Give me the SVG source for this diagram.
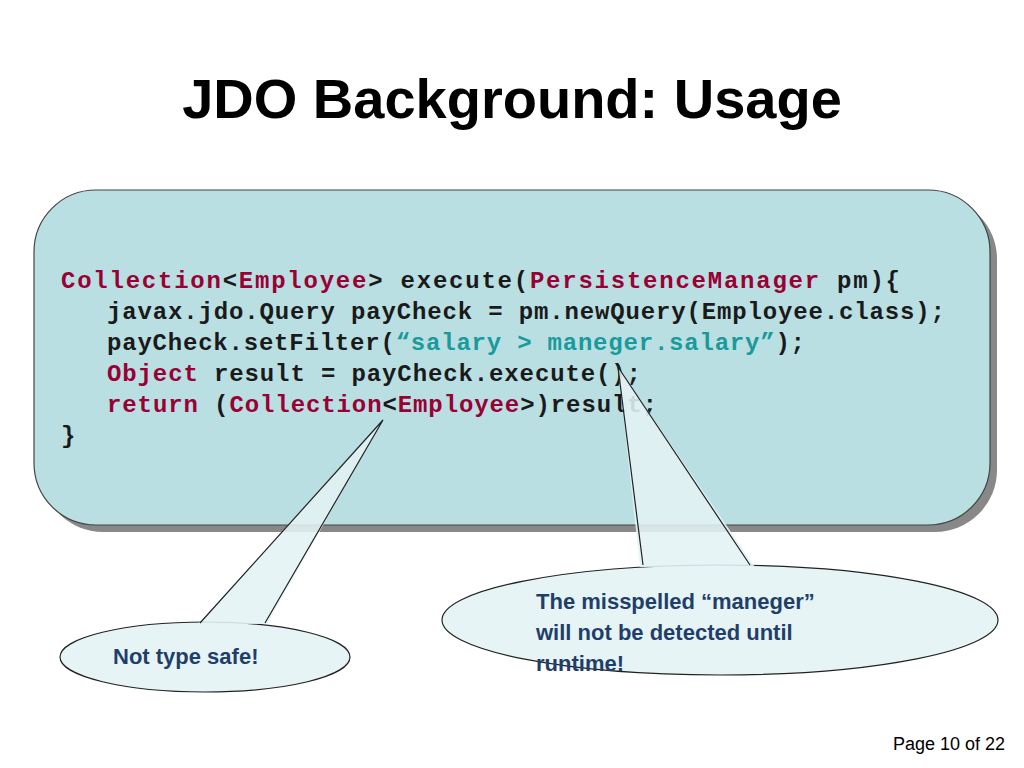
<svg xmlns="http://www.w3.org/2000/svg" width="1024" height="768" viewBox="0 0 1024 768">
<style>
.code{font-family:"Liberation Mono",monospace;font-weight:bold;font-size:24px;fill:#1a1a1a}
.k{fill:#990033}
.s{fill:#1a9a9a}
.call{fill:#e4f3f5;fill-opacity:0.88;stroke:#222;stroke-width:1.2}
.tail{fill:#e4f3f5;fill-opacity:0.88;stroke:none}
.tl{fill:none;stroke:#222;stroke-width:1.2}
.ct{font-family:"Liberation Sans",Arial,sans-serif;font-weight:bold;font-size:22px;fill:#1f3f6a}
</style>
<rect width="1024" height="768" fill="#fff"/>
<text x="512" y="118" text-anchor="middle" font-family="Liberation Sans,Arial,sans-serif" font-weight="bold" font-size="56" fill="#000">JDO Background: Usage</text>
<g id="codebox">
<rect x="41" y="197" width="956" height="335" rx="62" fill="#888"/>
<rect x="34" y="190" width="956" height="335" rx="62" fill="#b9dfe3" stroke="#444" stroke-width="1.2"/>
<text class="code" x="61" y="288" textLength="839" lengthAdjust="spacing"><tspan class="k">Collection</tspan>&lt;<tspan class="k">Employee</tspan>&gt; execute(<tspan class="k">PersistenceManager</tspan> pm){</text>
<text class="code" x="107" y="319" textLength="838" lengthAdjust="spacing">javax.jdo.Query payCheck = pm.newQuery(Employee.class);</text>
<text class="code" x="107" y="350" textLength="698" lengthAdjust="spacing">payCheck.setFilter(<tspan class="s">“salary &gt; maneger.salary”</tspan>);</text>
<text class="code" x="107" y="381" textLength="534" lengthAdjust="spacing"><tspan class="k">Object</tspan> result = payCheck.execute();</text>
<text class="code" x="107" y="412" textLength="550" lengthAdjust="spacing"><tspan class="k">return</tspan> (<tspan class="k">Collection</tspan>&lt;<tspan class="k">Employee</tspan>&gt;)result;</text>
<text class="code" x="61" y="443">}</text>
</g>
<g id="callout1">
<ellipse class="call" cx="205" cy="657" rx="145" ry="35"/>
<polygon class="tail" points="198,624 383,420 267,624"/>
<polyline class="tl" points="200,623 383,420 265,623"/>
<text class="ct" x="113" y="664">Not type safe!</text>
</g>
<g id="callout2">
<ellipse class="call" cx="720" cy="620" rx="278" ry="55"/>
<polygon class="tail" points="640,567 618,367 755,567"/>
<polyline class="tl" points="643,565 618,367 750,565"/>
<text class="ct" x="536" y="609">The misspelled “maneger”</text>
<text class="ct" x="536" y="640">will not be detected until</text>
<text class="ct" x="536" y="671">runtime!</text>
</g>
<text x="1005" y="750" text-anchor="end" font-family="Liberation Sans,Arial,sans-serif" font-size="18" fill="#000">Page 10 of 22</text>
</svg>
